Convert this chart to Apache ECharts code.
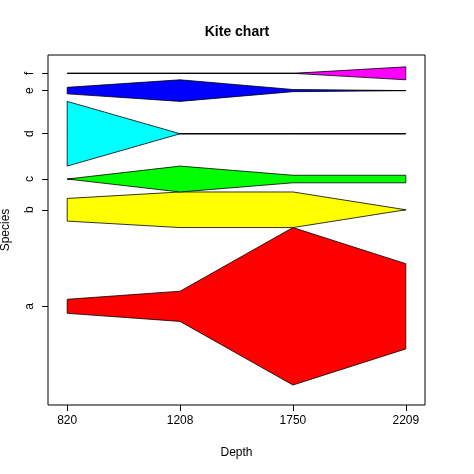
<!DOCTYPE html>
<html><head><meta charset="utf-8">
<script src="https://cdn.jsdelivr.net/npm/echarts@6/dist/echarts.min.js"></script>
<style>html,body{margin:0;padding:0;background:#fff}#c{width:474px;height:474px}</style>
</head><body><div id="c"></div>
<script>
var depths = ['820','1208','1750','2209'];
var species = ['a','b','c','d','e','f'];
var colors = ['#ff0000','#ffff00','#00ff00','#00ffff','#0000ff','#ff00ff'];
// half-widths per species at each depth
var wa = [6.5, 14, 73, 39.5];
var wb = [10.5, 16.5, 16.5, 0];
var wc = [0, 12, 3.5, 3.5];
var wd = [30, 0, 0, 0];
var we = [3, 10, 1, 0];
var wf = [0, 0, 0, 6];
var widths = [wa, wb, wc, wd, we, wf];

var centers = [], acc = 0;
widths.forEach(function(w){ var m = Math.max.apply(null, w); centers.push(acc + m); acc += 2*m; });

var chart = echarts.init(document.getElementById('c'));
var series = [];
widths.forEach(function(w, s){
  series.push({
    type:'custom', data:[s], silent:true,
    renderItem:function(params, api){
      var c = centers[s];
      var line = [api.coord([0,c]), api.coord([3,c])];
      var pts = [];
      for (var i=0;i<w.length;i++) pts.push(api.coord([i, c + w[i]]));
      for (var i=w.length-1;i>=0;i--) pts.push(api.coord([i, c - w[i]]));
      return {type:'group', children:[
        {type:'line', shape:{x1:line[0][0],y1:line[0][1],x2:line[1][0],y2:line[1][1]}, style:{stroke:'#000',lineWidth:1}},
        {type:'polygon', shape:{points:pts}, style:{fill:colors[s], stroke:'#000', lineWidth:0.8}}
      ]};
    }
  });
});

chart.setOption({
  animation:false,
  title:{text:'Kite chart', left:'center', top:20, textStyle:{fontFamily:'Liberation Sans', fontSize:14, fontWeight:'bold', color:'#000'}},
  grid:{left:48, right:49, top:55, bottom:69, containLabel:false, outerBoundsMode:'none', show:true, borderColor:'#000', borderWidth:1, backgroundColor:'transparent'},
  xAxis:{type:'value', min:-0.17, max:3.17, name:'Depth', nameLocation:'middle', nameGap:42,
    nameTextStyle:{fontFamily:'Liberation Sans', fontSize:12, color:'#000'},
    axisLine:{show:false, onZero:false}, splitLine:{show:false},
    axisTick:{show:true, inside:false, length:6, customValues:[0,1,2,3], lineStyle:{color:'#000'}},
    axisLabel:{customValues:[0,1,2,3], formatter:function(v){return depths[Math.round(v)];}, margin:10, fontFamily:'Liberation Sans', fontSize:12, color:'#000'}},
  yAxis:{type:'value', min:-18.5, max:306, name:'Species', nameLocation:'middle', nameGap:36,
    nameTextStyle:{fontFamily:'Liberation Sans', fontSize:12, color:'#000'},
    axisLine:{show:false, onZero:false}, splitLine:{show:false},
    axisTick:{show:true, inside:false, length:6, customValues:centers, lineStyle:{color:'#000'}},
    axisLabel:{customValues:centers, rotate:90, margin:12, formatter:function(v){
      for (var i=0;i<centers.length;i++) if (Math.abs(centers[i]-v)<0.01) return species[i]; return '';
    }, fontFamily:'Liberation Sans', fontSize:12, color:'#000'}},
  series:series
});
</script></body></html>
